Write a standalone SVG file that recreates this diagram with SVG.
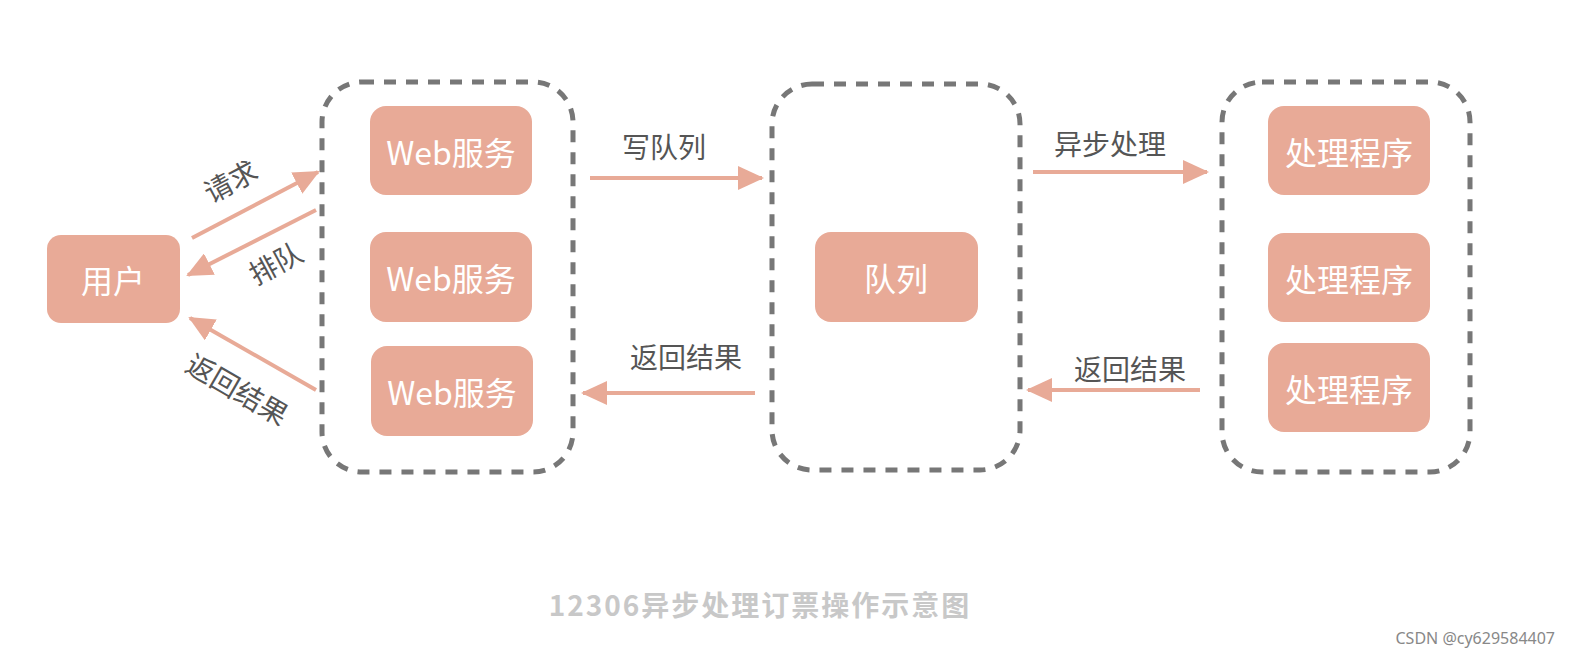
<svg xmlns="http://www.w3.org/2000/svg" width="1592" height="666" viewBox="0 0 1592 666">
<defs>
<style>
.box{fill:#e8aa97}
.bt{fill:#fff;font-family:"Noto Sans CJK SC","Noto Sans",sans-serif;font-size:32px;text-anchor:middle;dominant-baseline:central}
.ct{fill:none;stroke:#777;stroke-width:5;stroke-dasharray:12 10}
.ar{stroke:#e8aa97;stroke-width:4;fill:none;marker-end:url(#ah)}
.lb{fill:#555;font-family:"Noto Sans CJK SC",sans-serif;font-size:28px;text-anchor:middle;dominant-baseline:central}
</style>
<marker id="ah" markerWidth="8" markerHeight="8" refX="7" refY="4" orient="auto" markerUnits="userSpaceOnUse" viewBox="0 0 8 8">
<path d="M0,0 L8,4 L0,8 Z" fill="#e8aa97"/>
</marker>
</defs>
<style>#ah{overflow:visible}</style>
<rect width="1592" height="666" fill="#fff"/>
<g id="containers">
<rect class="ct" x="322" y="82" width="251" height="390" rx="40"/>
<rect class="ct" x="772" y="84" width="248" height="386" rx="40"/>
<rect class="ct" x="1222" y="82" width="248" height="390" rx="40"/>
</g>
<g id="user"><rect class="box" x="47" y="235" width="133" height="88" rx="14"/><text class="bt" x="113" y="279">用户</text></g>
<g id="web1"><rect class="box" x="370" y="106" width="162" height="89" rx="16"/><text class="bt" x="451" y="151">Web服务</text></g>
<g id="web2"><rect class="box" x="370" y="232" width="162" height="90" rx="16"/><text class="bt" x="451" y="277">Web服务</text></g>
<g id="web3"><rect class="box" x="371" y="346" width="162" height="90" rx="16"/><text class="bt" x="452" y="391">Web服务</text></g>
<g id="queue"><rect class="box" x="815" y="232" width="163" height="90" rx="16"/><text class="bt" x="896" y="277">队列</text></g>
<g id="h1"><rect class="box" x="1268" y="106" width="162" height="89" rx="16"/><text class="bt" x="1349" y="151">处理程序</text></g>
<g id="h2"><rect class="box" x="1268" y="233" width="162" height="89" rx="16"/><text class="bt" x="1349" y="278">处理程序</text></g>
<g id="h3"><rect class="box" x="1268" y="343" width="162" height="89" rx="16"/><text class="bt" x="1349" y="388">处理程序</text></g>
<g id="connectors">
<defs><marker id="a2" markerWidth="26" markerHeight="24" refX="24" refY="12" orient="auto" markerUnits="userSpaceOnUse"><path d="M0,0 L26,12 L0,24 Z" fill="#e8aa97"/></marker></defs>
<line class="ar" style="marker-end:url(#a2)" x1="192" y1="238" x2="318" y2="172"/>
<line class="ar" style="marker-end:url(#a2)" x1="316" y1="210" x2="188" y2="275"/>
<line class="ar" style="marker-end:url(#a2)" x1="316" y1="390" x2="190" y2="318"/>
<line class="ar" style="marker-end:url(#a2)" x1="590" y1="178" x2="762" y2="178"/>
<line class="ar" style="marker-end:url(#a2)" x1="755" y1="393" x2="583" y2="393"/>
<line class="ar" style="marker-end:url(#a2)" x1="1033" y1="172" x2="1207" y2="172"/>
<line class="ar" style="marker-end:url(#a2)" x1="1200" y1="390" x2="1028" y2="390"/>
<text class="lb" x="230" y="180" transform="rotate(-28 230 180)">请求</text>
<text class="lb" x="275" y="262" transform="rotate(-28 275 262)">排队</text>
<text class="lb" x="238" y="388" transform="rotate(30 238 388)">返回结果</text>
<text class="lb" x="664" y="146">写队列</text>
<text class="lb" x="686" y="356">返回结果</text>
<text class="lb" x="1110" y="143">异步处理</text>
<text class="lb" x="1130" y="368">返回结果</text>
</g>
<text x="760" y="604" fill="#c8c8c8" font-family="Noto Sans CJK SC,sans-serif" font-size="28" font-weight="bold" text-anchor="middle" dominant-baseline="central" letter-spacing="2">12306异步处理订票操作示意图</text>
<text x="1555" y="638" fill="#888" font-family="Noto Sans,sans-serif" font-size="16" text-anchor="end" dominant-baseline="central">CSDN @cy629584407</text>
</svg>
